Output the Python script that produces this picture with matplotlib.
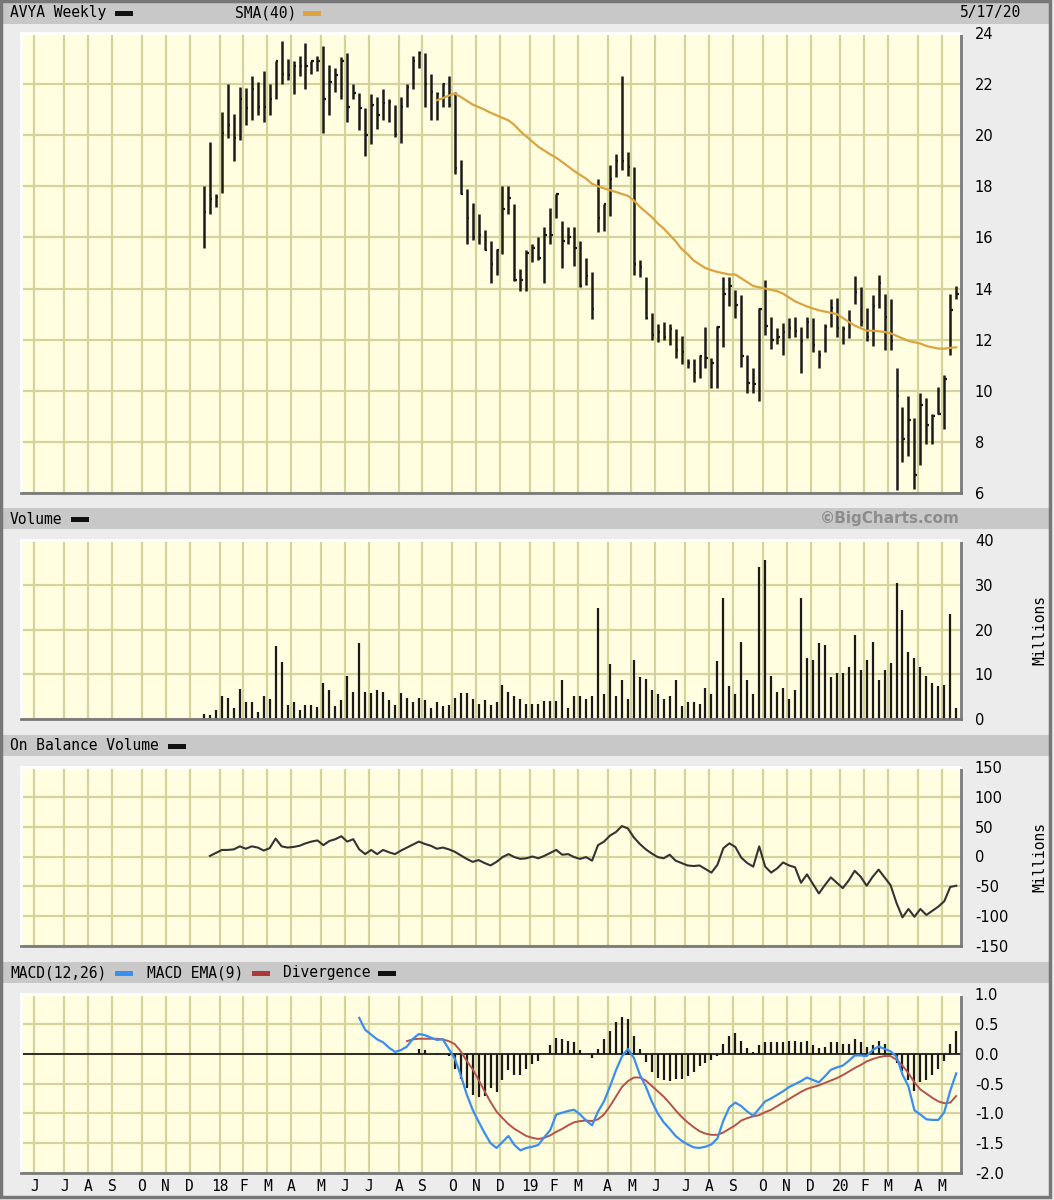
import numpy as np
import pandas as pd
import matplotlib
matplotlib.use('Agg')
import matplotlib.pyplot as plt
from matplotlib.patches import Rectangle

plt.rcParams['axes.unicode_minus'] = False

# weekly bars, first bar = week of Dec 15 2017, last = week of May 15 2020
high = [18.0, 19.75, 17.7, 20.9, 22.0, 20.85, 21.9, 21.85, 22.3, 22.1,
        22.5, 22.0, 22.9, 23.7, 23.0, 22.9, 23.1, 23.6, 22.9, 23.1,
        23.5, 22.75, 22.65, 23.05, 23.2, 22.0, 21.65, 21.05, 21.6, 21.5,
        21.8, 21.4, 21.2, 21.5, 22.0, 23.1, 23.3, 23.2, 22.4, 21.7,
        22.05, 22.3, 21.7, 19.05, 17.9, 17.35, 16.9, 16.3, 15.85, 15.55,
        18.0, 18.0, 17.3, 14.75, 15.5, 15.75, 16.0, 16.4, 17.15, 17.7,
        16.65, 16.4, 16.4, 15.85, 15.2, 14.65, 18.3, 17.3, 18.85, 19.25,
        22.3, 19.35, 18.75, 15.1, 14.45, 13.05, 12.6, 12.7, 12.6, 12.4,
        12.15, 11.25, 11.25, 11.4, 12.5, 11.3, 12.55, 14.45, 14.45, 13.95,
        13.75, 11.4, 10.9, 13.25, 14.35, 12.9, 12.45, 12.65, 12.85, 12.9,
        12.5, 12.9, 12.85, 11.6, 12.6, 13.6, 13.65, 12.55, 13.15, 14.5,
        14.05, 13.25, 13.75, 14.55, 13.8, 13.6, 10.9, 9.35, 9.8, 8.95,
        9.9, 9.7, 9.1, 10.15, 10.6, 13.8, 14.1]
low = [15.6, 16.9, 17.2, 17.75, 19.9, 19.0, 19.8, 20.4, 20.6, 20.8,
       20.5, 20.8, 21.4, 22.0, 22.15, 21.6, 22.3, 21.8, 22.4, 22.5,
       20.1, 20.8, 21.7, 21.4, 20.5, 21.4, 20.2, 19.2, 19.65, 20.25,
       20.6, 20.5, 19.95, 19.7, 21.1, 21.8, 22.65, 21.1, 20.6, 20.6,
       21.1, 21.1, 18.5, 17.7, 15.75, 15.9, 15.75, 15.5, 14.2, 14.55,
       15.35, 16.9, 14.3, 13.9, 13.9, 15.05, 15.1, 14.2, 15.75, 16.75,
       14.8, 15.75, 14.9, 14.05, 14.15, 12.8, 16.2, 16.25, 16.85, 18.35,
       18.65, 18.4, 14.55, 14.45, 12.8, 12.0, 11.9, 12.0, 11.8, 11.3,
       11.05, 10.9, 10.35, 10.5, 10.9, 10.1, 10.1, 11.7, 13.3, 12.85,
       10.95, 9.9, 9.9, 9.6, 12.2, 11.65, 11.85, 11.4, 12.05, 12.1,
       10.7, 12.05, 11.5, 10.9, 11.5, 12.5, 12.1, 11.85, 12.05, 13.4,
       12.55, 11.95, 11.75, 13.25, 11.6, 11.6, 6.1, 7.2, 7.45, 6.15,
       7.1, 7.9, 7.9, 9.1, 8.5, 11.4, 13.6]
close = [17.0, 17.5, 17.6, 20.1, 20.4, 19.9, 21.4, 21.05, 21.8, 21.1,
         21.1, 21.4, 22.9, 22.4, 22.35, 22.7, 22.7, 22.7, 22.9, 22.9,
         21.4, 22.1, 22.35, 22.9, 21.1, 21.65, 21.05, 20.0, 21.2, 20.8,
         21.25, 21.3, 20.05, 21.1, 21.9, 22.9, 23.2, 22.0, 21.7, 21.6,
         22.0, 21.2, 18.7, 17.7, 16.75, 16.0, 16.1, 15.5, 14.95, 15.5,
         17.1, 17.55, 14.35, 14.35, 15.4, 15.6, 15.2, 16.1, 16.1, 17.7,
         15.85, 16.0, 15.6, 14.1, 14.5, 13.2, 16.75, 17.3, 18.3, 19.0,
         19.0, 18.75, 14.95, 14.85, 12.85, 12.2, 12.3, 12.1, 12.4, 11.6,
         11.5, 11.1, 10.7, 11.35, 11.3, 11.1, 12.5, 13.8, 14.1, 13.35,
         11.35, 10.3, 10.25, 13.2, 12.55, 12.0, 12.1, 12.3, 12.45, 12.35,
         11.95, 12.7, 11.8, 11.4, 12.5, 13.25, 12.45, 12.4, 12.75, 13.85,
         12.7, 12.1, 13.3, 14.2, 12.9, 11.95, 9.8, 8.1, 8.85, 6.7,
         9.45, 8.65, 9.0, 9.1, 10.45, 13.15, 13.8]

# SMA(40), starts at bar 39
sma40 = [21.37, 21.45, 21.55, 21.63, 21.5, 21.35, 21.2, 21.1, 21.0, 20.88,
         20.78, 20.68, 20.58, 20.4, 20.15, 19.95, 19.75, 19.55, 19.4, 19.25,
         19.12, 18.95, 18.78, 18.6, 18.45, 18.3, 18.1, 18.0, 17.92, 17.85,
         17.78, 17.7, 17.63, 17.45, 17.2, 17.0, 16.8, 16.55, 16.35, 16.1,
         15.85, 15.55, 15.35, 15.1, 14.95, 14.8, 14.72, 14.65, 14.6, 14.55,
         14.55, 14.4, 14.25, 14.1, 14.05, 14.0, 13.95, 13.9, 13.8, 13.65,
         13.5, 13.4, 13.3, 13.22, 13.15, 13.1, 13.05, 13.0, 12.85, 12.7,
         12.55, 12.45, 12.35, 12.35, 12.33, 12.3, 12.25, 12.15, 12.05, 11.95,
         11.9, 11.85, 11.75, 11.7, 11.65, 11.65, 11.68, 11.7]
sma_start = 39

# volume, millions
volume = [1.1, 0.8, 2.1, 5.1, 4.7, 2.5, 6.7, 3.8, 3.8, 1.5,
          5.1, 4.5, 16.3, 12.7, 3.1, 3.8, 1.9, 3.1, 3.1, 2.7,
          8.1, 6.4, 2.8, 4.2, 9.7, 6.1, 16.9, 6.1, 5.8, 6.4,
          6.1, 4.2, 3.1, 5.8, 4.7, 3.8, 4.7, 4.2, 2.5, 3.8,
          2.8, 3.1, 4.7, 5.8, 5.8, 4.5, 3.4, 4.2, 3.1, 3.8,
          7.7, 6.1, 5.1, 4.5, 3.4, 3.4, 3.4, 4.1, 4.1, 4.1,
          8.7, 2.5, 5.1, 5.1, 4.5, 5.1, 24.7, 5.5, 12.3, 5.1,
          8.7, 4.5, 13.2, 9.3, 9.0, 6.4, 5.5, 4.5, 5.1, 8.7,
          2.8, 3.8, 3.8, 3.4, 7.0, 5.5, 12.9, 27.1, 7.3, 5.5,
          17.3, 8.7, 5.5, 33.9, 35.6, 9.7, 6.1, 7.0, 4.5, 6.4,
          27.1, 13.6, 13.2, 16.9, 16.5, 9.3, 10.3, 10.3, 11.6, 18.8,
          11.0, 13.2, 17.2, 8.7, 11.0, 12.6, 30.4, 24.4, 15.0, 13.6,
          11.6, 9.6, 8.1, 7.4, 7.7, 23.4, 2.5]

# on balance volume, millions, starts at bar 1
obv = [1, 6, 11, 11, 12, 17, 13, 17, 15, 10,
       14, 30, 17, 15, 16, 18, 22, 25, 27, 19,
       26, 29, 34, 25, 29, 12, 4, 11, 4, 11,
       7, 4, 10, 15, 20, 25, 21, 18, 13, 15,
       12, 8, 2, -4, -9, -6, -11, -15, -9, -1,
       4, -1, -4, -3, 0, -3, 1, 6, 11, 3,
       4, -1, -4, -1, -7, 19, 25, 35, 41, 51,
       47, 32, 21, 12, 5, -1, -3, 3, -7, -11,
       -15, -16, -15, -21, -27, -14, 14, 22, 16, -2,
       -11, -17, 17, -17, -27, -20, -10, -15, -18, -44,
       -30, -46, -62, -48, -35, -44, -53, -40, -24, -34,
       -49, -34, -22, -35, -48, -78, -102, -88, -101, -88,
       -98, -91, -84, -75, -51, -49]
obv_start = 1

# MACD(12,26), starts at bar 26
macd = [0.60, 0.40, 0.32, 0.24, 0.19, 0.10, 0.03, 0.06, 0.12, 0.25,
        0.33, 0.31, 0.27, 0.23, 0.24, 0.08, -0.08, -0.36, -0.68, -0.94,
        -1.14, -1.33, -1.50, -1.58, -1.48, -1.38, -1.53, -1.62, -1.58, -1.56,
        -1.53, -1.40, -1.28, -1.02, -0.99, -0.96, -0.94, -1.02, -1.12, -1.20,
        -0.97, -0.80, -0.55, -0.28, -0.05, 0.08, -0.07, -0.35, -0.55, -0.80,
        -1.00, -1.15, -1.26, -1.38, -1.46, -1.52, -1.57, -1.58, -1.56, -1.52,
        -1.42, -1.12, -0.90, -0.82, -0.88, -0.97, -1.04, -0.92, -0.80, -0.75,
        -0.69, -0.63, -0.56, -0.51, -0.46, -0.40, -0.44, -0.48, -0.38, -0.27,
        -0.23, -0.20, -0.12, -0.03, -0.03, -0.04, 0.06, 0.12, 0.08, 0.04,
        -0.05, -0.35, -0.55, -0.95, -1.02, -1.10, -1.11, -1.11, -0.98, -0.62,
        -0.33]
macd_start = 26

# MACD EMA(9), starts at bar 34
macd_ema = [0.21, 0.24, 0.25, 0.25, 0.25, 0.25, 0.24, 0.21, 0.16, 0.04,
            -0.12, -0.26, -0.44, -0.63, -0.81, -0.97, -1.08, -1.18, -1.26, -1.32,
            -1.38, -1.41, -1.43, -1.41, -1.37, -1.31, -1.26, -1.20, -1.15, -1.13,
            -1.12, -1.13, -1.10, -1.02, -0.88, -0.72, -0.56, -0.46, -0.40, -0.40,
            -0.45, -0.54, -0.63, -0.72, -0.83, -0.95, -1.06, -1.15, -1.23, -1.30,
            -1.34, -1.36, -1.36, -1.32, -1.26, -1.20, -1.12, -1.08, -1.05, -1.03,
            -0.98, -0.94, -0.88, -0.82, -0.76, -0.70, -0.64, -0.59, -0.56, -0.53,
            -0.49, -0.45, -0.41, -0.36, -0.30, -0.24, -0.19, -0.13, -0.09, -0.06,
            -0.04, -0.04, -0.10, -0.20, -0.33, -0.48, -0.60, -0.67, -0.74, -0.80,
            -0.83, -0.82, -0.71]
ema_start = 34

# divergence histogram, starts at bar 36
divergence = [0.08, 0.06, 0.0, -0.02, 0.0, -0.04, -0.25, -0.42, -0.57, -0.70,
              -0.72, -0.71, -0.57, -0.65, -0.44, -0.28, -0.35, -0.35, -0.26, -0.18,
              -0.12, 0.0, 0.14, 0.26, 0.24, 0.21, 0.19, 0.06, 0.0, -0.08,
              0.08, 0.24, 0.38, 0.53, 0.61, 0.58, 0.30, 0.08, -0.14, -0.31,
              -0.40, -0.44, -0.46, -0.42, -0.42, -0.38, -0.31, -0.21, -0.15, -0.10,
              -0.04, 0.16, 0.29, 0.34, 0.21, 0.10, 0.02, 0.14, 0.19, 0.19,
              0.19, 0.19, 0.21, 0.21, 0.20, 0.21, 0.14, 0.10, 0.12, 0.19,
              0.19, 0.16, 0.16, 0.24, 0.19, 0.12, 0.14, 0.21, 0.16, -0.01,
              -0.15, -0.29, -0.44, -0.63, -0.48, -0.44, -0.35, -0.26, -0.12, 0.16,
              0.38]
div_start = 36

month_labels = ['J', 'J', 'A', 'S', 'O', 'N', 'D', '18', 'F', 'M', 'A', 'M',
                'J', 'J', 'A', 'S', 'O', 'N', 'D', '19', 'F', 'M', 'A', 'M',
                'J', 'J', 'A', 'S', 'O', 'N', 'D', '20', 'F', 'M', 'A', 'M']

# x axis is in weeks from the first bar; a month line sits on the first week
# that reaches the 1st (empty weeks end on Friday, trading weeks on Sunday)
first_fri = pd.Timestamp('2017-12-15')
first_sun = pd.Timestamp('2017-12-17')
months = pd.date_range('2017-06-01', periods=len(month_labels), freq='MS')
month_pos = []
for m in months:
    ref = first_fri if m < first_fri else first_sun
    month_pos.append(np.ceil((m - ref).days / 7) - 0.4)
idx = np.arange(len(close))

W, H = 1054, 1200
fig = plt.figure(figsize=(W / 100, H / 100), dpi=100)
fig.patch.set_facecolor('#ececec')

MONO = 'DejaVu Sans Mono'
GRID = '#d6d29c'
BG = '#fffee0'


def box(x0, y0, x1, y1):
    return [x0 / W, 1 - y1 / H, (x1 - x0) / W, (y1 - y0) / H]


def fig_rect(x0, y0, x1, y1, **kw):
    fig.add_artist(Rectangle((x0 / W, 1 - y1 / H), (x1 - x0) / W, (y1 - y0) / H,
                             transform=fig.transFigure, **kw))


def header(y0, y1):
    fig_rect(3, y0, 1049, y1, facecolor='#c8c8c8', edgecolor='none', zorder=0)


def label(x, y, s, swatch=None, ha='left', **kw):
    fig.text(x / W, 1 - y / H, s, ha=ha, va='center', family=MONO, fontsize=10.5, **kw)
    if swatch is not None:
        fig_rect(swatch[0], y - 2.5, swatch[0] + 18, y + 2.5, facecolor=swatch[1],
                 edgecolor='none')


def panel(y0, y1, ylim, yticks, ylabels):
    ax = fig.add_axes(box(21, y0, 961, y1))
    ax.set_facecolor(BG)
    ax.set_xlim(-30.65, 126.8)
    ax.set_ylim(*ylim)
    ax.set_xticks(month_pos)
    ax.set_yticks(yticks)
    ax.set_yticklabels(ylabels)
    ax.grid(True, color=GRID, lw=1.6)
    ax.set_axisbelow(True)
    ax.yaxis.tick_right()
    ax.tick_params(length=0, labelsize=10.5, pad=10)
    ax.tick_params(axis='x', labelbottom=False)
    for s in ['top', 'left']:
        ax.spines[s].set_color('#ffffff')
        ax.spines[s].set_linewidth(2)
    for s in ['right', 'bottom']:
        ax.spines[s].set_color('#7a7a7a')
        ax.spines[s].set_linewidth(2)
    return ax


# headers
header(1, 24)
header(508, 529)
header(735, 756)
header(962, 983)
label(10, 13, 'AVYA Weekly', swatch=(115, '#111111'))
label(235, 13, 'SMA(40)', swatch=(303, '#d9a441'))
label(1021, 13, '5/17/20', ha='right')
label(10, 519, 'Volume', swatch=(71, '#111111'))
fig.text(960 / W, 1 - 519 / H, '\u00a9BigCharts.com', ha='right', va='center',
         fontsize=11, fontweight='bold', color='#8c8c8c')
label(10, 746, 'On Balance Volume', swatch=(168, '#111111'))
label(10, 973, 'MACD(12,26)', swatch=(115, '#3a8ef0'))
label(147, 973, 'MACD EMA(9)', swatch=(252, '#b03a3a'))
label(283, 973, 'Divergence', swatch=(378, '#111111'))

# price panel
ax1 = panel(33, 493, (6, 24), range(6, 25, 2), [str(v) for v in range(6, 25, 2)])
ax1.vlines(idx, low, high, color='#1a1a1a', lw=1.8)
ax1.hlines(close, idx, idx + 0.4, color='#1a1a1a', lw=1.6)
ax1.plot(np.arange(sma_start, sma_start + len(sma40)), sma40, color='#d9a441', lw=1.6)

# volume panel
ax2 = panel(540, 719, (0, 40), range(0, 41, 10), [str(v) for v in range(0, 41, 10)])
ax2.vlines(idx, 0, volume, color='#1a1a1a', lw=1.6)

# on balance volume panel
ax3 = panel(767, 946, (-150, 150), range(-150, 151, 50),
            [str(v) for v in range(-150, 151, 50)])
ax3.plot(np.arange(obv_start, obv_start + len(obv)), obv, color='#333333', lw=1.5)

# MACD panel
mt = [-2.0, -1.5, -1.0, -0.5, 0.0, 0.5, 1.0]
ax4 = panel(994, 1173, (-2, 1), mt, ['%.1f' % v for v in mt])
ax4.axhline(0, color='#111111', lw=1.2)
ax4.vlines(np.arange(div_start, div_start + len(divergence)), 0, divergence,
           color='#1a1a1a', lw=1.6)
ax4.plot(np.arange(ema_start, ema_start + len(macd_ema)), macd_ema, color='#b5524a', lw=1.4)
ax4.plot(np.arange(macd_start, macd_start + len(macd)), macd, color='#3a8ef0', lw=1.6)
ax4.set_xticklabels(month_labels, family=MONO, fontsize=10.5)
ax4.tick_params(axis='x', labelbottom=True, pad=4)

fig.text(1040 / W, 1 - 630 / H, 'Millions', rotation=90, ha='center', va='center',
         family=MONO, fontsize=10.5)
fig.text(1040 / W, 1 - 857 / H, 'Millions', rotation=90, ha='center', va='center',
         family=MONO, fontsize=10.5)

# outer frame
fig_rect(1, 1, 1050, 1197, facecolor='none', edgecolor='#777777', lw=2.5)

fig.savefig('out.png', dpi=100, facecolor=fig.get_facecolor())
